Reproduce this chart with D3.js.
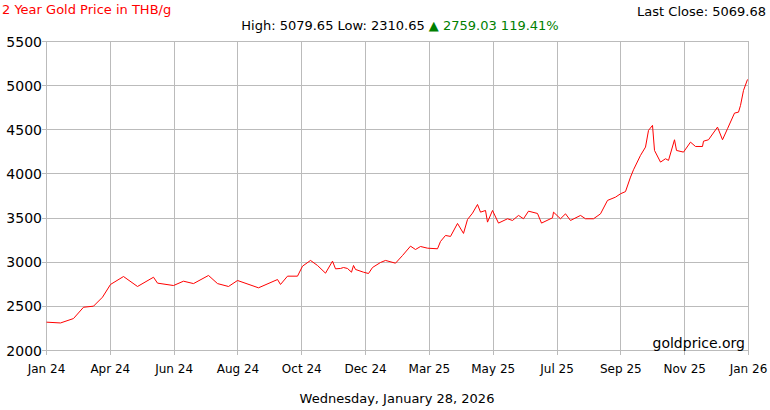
<!DOCTYPE html>
<html>
<head>
<meta charset="utf-8">
<style>
body { margin: 0; background: #fff; font-family: 'DejaVu Sans', Verdana, sans-serif; }
.grid line { stroke: #bbbbbb; shape-rendering: crispEdges; }
</style>
</head>
<body>
<script src="https://d3js.org/d3.v7.min.js"></script>
<script>
'use strict';
// position along the 2-year span (0..702) and price in THB/g
const days = [0,14,27,37,47,56,64,77,91,107,111,127,137,147,162,171,182,191,212,231,234,
  241,251,256,264,271,279,286,289,294,297,301,305,307,309,317,322,326,334,339,349,
  356,364,369,374,381,391,394,399,404,411,417,421,426,431,434,439,441,446,452,461,
  466,472,477,482,491,495,506,507,514,519,524,534,539,547,554,561,569,574,579,584,
  587,594,599,602,606,608,614,619,622,628,630,637,644,649,656,657,662,671,676,681,
  688,692,694,697,701];
const prices = [2321,2312,2362,2490,2502,2604,2748,2838,2725,2830,2763,2736,2785,2758,2850,2758,2725,2793,2710,2804,2748,
  2842,2842,2955,3020,2963,2876,3012,2925,2929,2940,2929,2887,2963,2918,2887,2872,2940,2997,3020,2989,
  3076,3182,3144,3178,3159,3152,3235,3303,3292,3439,3326,3484,3556,3654,3567,3586,3454,3586,3443,3492,
  3473,3530,3492,3578,3552,3443,3503,3567,3492,3548,3473,3530,3492,3492,3548,3700,3737,3775,3800,3964,
  4047,4210,4304,4493,4550,4266,4134,4172,4153,4387,4266,4247,4360,4311,4311,4371,4387,4530,4387,4512,
  4689,4700,4776,4946,5070];
const xLabels = ['Jan 24','Apr 24','Jun 24','Aug 24','Oct 24','Dec 24','Mar 25','May 25','Jul 25','Sep 25','Nov 25','Jan 26'];
const yTicks = [2000, 2500, 3000, 3500, 4000, 4500, 5000, 5500];

const W = 770, H = 410;
const x = d3.scaleLinear().domain([0, 702]).range([46.5, 748.5]);
const xl = d3.scalePoint().domain(xLabels).range([46.5, 748.5]);
const y = d3.scaleLinear().domain([2000, 5500]).range([350.5, 41.5]);

const svg = d3.select('body').append('svg').attr('width', W).attr('height', H);

// grid
const g = svg.append('g').attr('class', 'grid');
g.selectAll('.v').data(xLabels).enter().append('line')
  .attr('x1', d => xl(d)).attr('x2', d => xl(d)).attr('y1', 41.5).attr('y2', 355);
g.selectAll('.h').data(yTicks).enter().append('line')
  .attr('x1', 42).attr('x2', 748.5).attr('y1', d => y(d)).attr('y2', d => y(d));

// tick labels
svg.selectAll('.yl').data(yTicks).enter().append('text')
  .attr('x', 42).attr('y', d => y(d) + 5).attr('text-anchor', 'end')
  .attr('font-size', 14).attr('fill', '#000').text(d => d);
svg.selectAll('.xl').data(xLabels).enter().append('text')
  .attr('x', d => xl(d)).attr('y', 373).attr('text-anchor', 'middle')
  .attr('font-size', 12).attr('fill', '#000').text(d => d);

// price line
svg.append('path')
  .attr('d', d3.line().x((d, i) => x(days[i])).y(d => y(d))(prices))
  .attr('fill', 'none').attr('stroke', '#ff0000').attr('stroke-width', 1);

// texts
svg.append('text').attr('x', 2).attr('y', 14).attr('font-size', 13).attr('fill', '#ff0000')
  .text('2 Year Gold Price in THB/g');
svg.append('text').attr('x', 766).attr('y', 16).attr('font-size', 13).attr('text-anchor', 'end')
  .attr('fill', '#000').text('Last Close: 5069.68');
const hl = svg.append('text').attr('x', 400).attr('y', 30).attr('font-size', 13).attr('text-anchor', 'middle');
hl.append('tspan').attr('fill', '#000').text('High: 5079.65 Low: 2310.65 ');
hl.append('tspan').attr('fill', '#008000').text('▲ 2759.03 119.41%');
svg.append('text').attr('x', 745).attr('y', 348).attr('font-size', 14).attr('text-anchor', 'end')
  .attr('fill', '#000').text('goldprice.org');
svg.append('text').attr('x', 397).attr('y', 403).attr('font-size', 13).attr('text-anchor', 'middle')
  .attr('fill', '#000').text('Wednesday, January 28, 2026');
</script>
</body>
</html>
